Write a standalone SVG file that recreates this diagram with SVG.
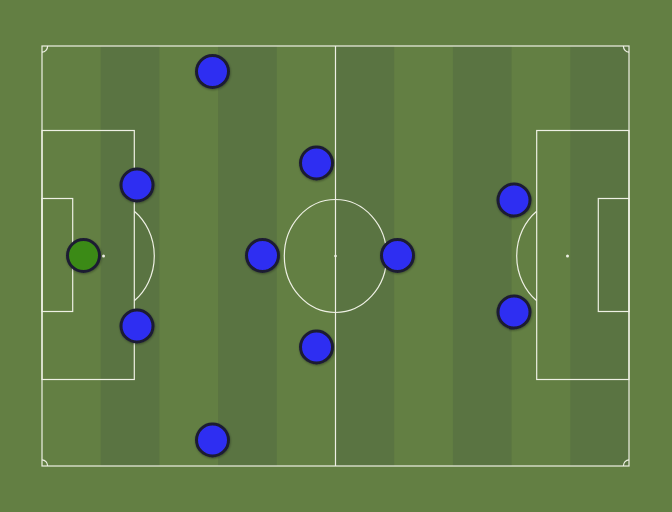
<svg xmlns="http://www.w3.org/2000/svg" width="672" height="512" viewBox="0 0 672 512">
<defs>
<style>
.ln{fill:none;stroke:#eef0e4;stroke-width:1.2}
.dk{fill:#5a7442}
.pl{fill:#2f2ff2;stroke:#1d1d33;stroke-width:3}
.gk{fill:#3b8a16;stroke:#1d1d33;stroke-width:3}
</style>
<filter id="sh" x="-30%" y="-30%" width="160%" height="160%"><feDropShadow dx="0.5" dy="1" stdDeviation="1" flood-color="#000" flood-opacity="0.35"/></filter>
</defs>
<rect width="672" height="512" fill="#637f43"/>
<g id="stripes">
<rect class="dk" x="100.7" y="46" width="58.7" height="420"/>
<rect class="dk" x="218.1" y="46" width="58.7" height="420"/>
<rect class="dk" x="335.5" y="46" width="58.7" height="420"/>
<rect class="dk" x="452.9" y="46" width="58.7" height="420"/>
<rect class="dk" x="570.3" y="46" width="58.7" height="420"/>
</g>
<g id="pitch">
<rect class="ln" x="42" y="46" width="587" height="420"/>
<line class="ln" x1="335.5" y1="46" x2="335.5" y2="466"/>
<ellipse class="ln" cx="335.5" cy="256" rx="51.2" ry="56.5"/>
<circle cx="335.5" cy="256" r="1.3" fill="#eef0e4"/>
<rect class="ln" x="42" y="130.5" width="92.3" height="249"/>
<rect class="ln" x="42" y="198.5" width="30.7" height="113"/>
<circle cx="103.5" cy="256" r="1.5" fill="#eef0e4"/>
<path class="ln" d="M134.3,211.2 A51.2,56.5 0 0 1 134.3,300.8"/>
<rect class="ln" x="536.7" y="130.5" width="92.3" height="249"/>
<rect class="ln" x="598.3" y="198.5" width="30.7" height="113"/>
<circle cx="567.5" cy="256" r="1.5" fill="#eef0e4"/>
<path class="ln" d="M536.7,211.2 A51.2,56.5 0 0 0 536.7,300.8"/>
<path class="ln" d="M42,52.2 A5.6,6.2 0 0 0 47.6,46"/>
<path class="ln" d="M623.4,46 A5.6,6.2 0 0 0 629,52.2"/>
<path class="ln" d="M42,459.8 A5.6,6.2 0 0 1 47.6,466"/>
<path class="ln" d="M623.4,466 A5.6,6.2 0 0 1 629,459.8"/>
</g>
<g id="players" filter="url(#sh)">
<circle id="p1" class="gk" cx="83.5" cy="255.5" r="16"/>
<circle id="p2" class="pl" cx="137" cy="185" r="16"/>
<circle id="p3" class="pl" cx="137" cy="326" r="16"/>
<circle id="p4" class="pl" cx="212.5" cy="71.5" r="16"/>
<circle id="p5" class="pl" cx="212.5" cy="440" r="16"/>
<circle id="p6" class="pl" cx="262.5" cy="255.5" r="16"/>
<circle id="p7" class="pl" cx="316.5" cy="163" r="16"/>
<circle id="p8" class="pl" cx="316.5" cy="347" r="16"/>
<circle id="p9" class="pl" cx="397.5" cy="255.5" r="16"/>
<circle id="p10" class="pl" cx="514" cy="200" r="16"/>
<circle id="p11" class="pl" cx="514" cy="312" r="16"/>
</g>
</svg>
